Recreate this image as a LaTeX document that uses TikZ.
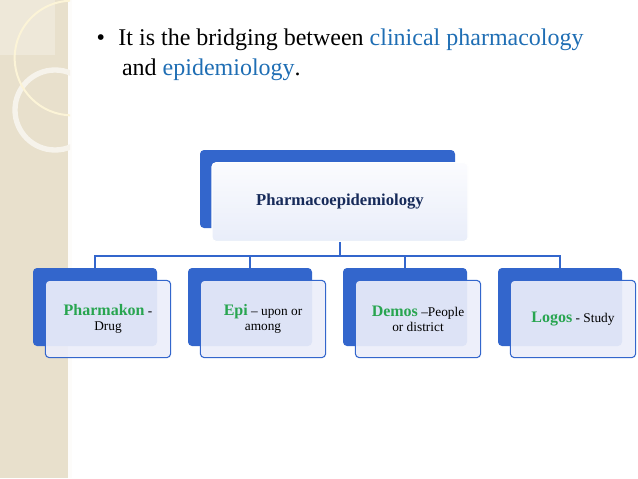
\documentclass[tikz,border=0pt]{standalone}
\usepackage{fontspec}
\setmainfont{Liberation Serif}
\definecolor{deepblue}{RGB}{51,102,204}
\definecolor{navytext}{RGB}{23,43,90}
\definecolor{leafgreen}{RGB}{40,165,80}
\definecolor{linkblue}{RGB}{31,110,180}
\definecolor{sand}{RGB}{232,224,204}
\definecolor{paleback}{RGB}{236,238,250}
\definecolor{cream}{RGB}{252,244,215}
\begin{document}
\begin{tikzpicture}[x=0.75pt, y=-0.75pt,
  backbox/.style={fill=deepblue, rounded corners=3pt},
  frontbox/.style={draw=deepblue, thick, fill=paleback, fill opacity=0.92, text opacity=1, rounded corners=3pt, align=center, font=\fontsize{10}{11}\selectfont},
  link/.style={deepblue, thick}]
	\useasboundingbox (0,0) rectangle (638,478);

	% side panel
	\fill[sand] (0,0) rectangle (70,478);
	\draw[white!90!sand, line width=3pt] (70,0) -- (70,478);
	\begin{scope}
	\clip (0,0) rectangle (70,478);
	\fill[white!25!sand] (0,0) rectangle (55,55);
	\draw[white!60!sand, line width=4pt] (55,110) circle (30pt);
	\draw[cream, line width=1.5pt] (72,58) circle (43pt);
	\end{scope}

	% bullet text
	\node[anchor=base west, font=\fontsize{18}{22.5}\selectfont, align=left] (intro) at (92,75)
	  {\textbullet\hspace{10pt}It is the bridging between \textcolor{linkblue}{clinical pharmacology}\\
	   \hspace{19pt}and \textcolor{linkblue}{epidemiology}.};

	% root
	\fill[backbox] (200,150) rectangle (455,228);
	\node[frontbox, minimum width=192pt, minimum height=59pt, top color=white!80!paleback, bottom color=paleback!80!deepblue!40, draw=white, fill opacity=1, font=\fontsize{12.5}{14}\selectfont] (root) at (340,202) {\textbf{\textcolor{navytext}{Pharmacoepidemiology}}};

	% children
	\foreach \bx/\name/\txt in {33/pharm/{\textcolor{leafgreen}{\textbf{\large Pharmakon}} -\\Drug},
	                           188/epi/{\textcolor{leafgreen}{\textbf{\large Epi}} -- upon or\\among},
	                           343/demos/{\textcolor{leafgreen}{\textbf{\large Demos}} --People\\or district},
	                           498/logos/{\textcolor{leafgreen}{\textbf{\large Logos}} - Study}}{
		\fill[backbox] (\bx,268) rectangle ({\bx+124},346);
		\coordinate (\name top) at ({\bx+62},268);
		\node[frontbox, minimum width=94pt, minimum height=58pt] (\name) at ({\bx+75},319) {\txt};
	}

	\coordinate (split) at (340,256);
	\draw[link] (root.south) -- (split);
	\draw[link] (pharmtop) -- ++(0,-12) -| (logostop);
	\draw[link] (epitop) -- ++(0,-12);
	\draw[link] (demostop) -- ++(0,-12);

\end{tikzpicture}
\end{document}
